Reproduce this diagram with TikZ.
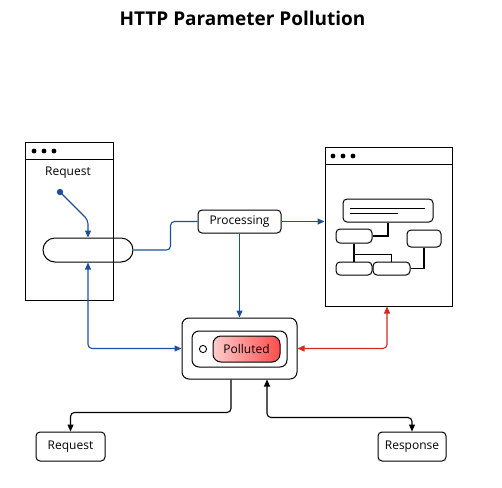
\documentclass[tikz,border=0pt]{standalone}
\usepackage{fontspec}
\setmainfont{Open Sans}
\usetikzlibrary{arrows.meta,positioning}
\definecolor{linkblue}{HTML}{1F4E9C}
\definecolor{alertred}{HTML}{D42A1F}

\tikzset{
  box/.style={draw, line width=1pt, rounded corners=4pt, inner sep=0pt},
  window/.style={draw, line width=1pt, inner sep=0pt},
  tag/.style={box, minimum height=23pt, font=\fontsize{12}{14}\selectfont},
  wire/.style={line width=1.1pt, rounded corners=4pt},
  tip/.style={-{Triangle[length=7pt,width=6pt]}},
  tips/.style={{Triangle[length=7pt,width=6pt]}-{Triangle[length=7pt,width=6pt]}},
}

\begin{document}
\begin{tikzpicture}[x=1pt,y=-1pt]
\useasboundingbox (0,0) rectangle (502,487);

\node [font=\fontsize{19}{22}\selectfont\bfseries] (title) at (242.5,18) {HTTP Parameter Pollution};

% left window
\node [window, minimum width=88pt, minimum height=158pt] (lwin) at (69,221) {};
\draw [line width=1pt] (25,159) -- (113,159);
\foreach \x in {34,44,54}
  \fill (\x,151) circle (2.4pt);
\node [font=\fontsize{12}{14}\selectfont] (lreq) at (68,173) {Request};
\node [box, rounded corners=12pt, minimum width=90pt, minimum height=24pt] (pill) at (88,250) {};
\fill [linkblue] (60,192) circle (3.2pt) coordinate (src);
\coordinate (kink) at (88,220);
\draw [wire, tip, linkblue] (src) -- (kink) -- (pill.north);

% processing
\node [tag, minimum width=83pt] (proc) at (239.5,221.5) {Processing};

% right window
\node [window, minimum width=127pt, minimum height=159pt] (rwin) at (388.5,226.5) {};
\draw [line width=1pt] (325,164) -- (452,164);
\foreach \x in {333,343,353}
  \fill (\x,156) circle (2.4pt);
\node [box, minimum width=90pt, minimum height=23pt] (tb) at (388,210.5) {};
\draw [line width=1pt] (350,208) -- (425,208);
\draw [line width=1pt] (350,213.5) -- (398,213.5);
\node [box, minimum width=36pt, minimum height=14pt] (lm) at (354,236) {};
\node [box, minimum width=34pt, minimum height=17pt] (rm) at (424,238.5) {};
\node [box, minimum width=36pt, minimum height=13pt] (bl) at (354,268.5) {};
\node [box, minimum width=37pt, minimum height=13pt] (br) at (391.5,268.5) {};
\draw [wire, rounded corners=0pt] (tb.south) |- (lm.east);
\draw [wire, rounded corners=0pt] (lm.south) -- (bl.north);
\draw [wire, rounded corners=0pt] (lm.south) ++(0,11) -| (br.north);
\draw [wire, rounded corners=0pt] (rm.south) |- (br.east);

% polluted
\node [box, rounded corners=7pt, minimum width=115pt, minimum height=61pt] (ob) at (239.5,348.5) {};
\node [box, rounded corners=7pt, minimum width=95pt, minimum height=36pt] (ib) at (239.5,349) {};
\draw [line width=0.9pt] (203,349) circle (3.6pt) coordinate (led);
\node [box, rounded corners=8pt, minimum width=67pt, minimum height=26pt,
  left color=red!20, right color=red!70, font=\fontsize{12}{14}\selectfont] (pol) at (246.5,349) {Polluted};

% bottom
\node [tag, minimum width=69pt, minimum height=29pt] (req) at (70.5,446.5) {Request};
\node [tag, minimum width=68pt, minimum height=29pt] (resp) at (412,446.5) {Response};

% connectors
\draw [wire, linkblue] (pill.east) -- ++(37,0) |- (proc.west);
\draw [wire, tip, linkblue] (proc.east) -- (rwin.west |- proc.east);
\draw [wire, tip, linkblue] (proc.south) -- (proc.south |- ob.north);
\draw [wire, tips, linkblue] (pill.south) |- (ob.west);
\draw [wire, tips, alertred] (ob.east) -| ([xshift=-1.5pt]rwin.south);
\draw [wire, tip] ([xshift=-8.5pt]ob.south) -- ++(0,33) -| (req.north);
\draw [wire, tips] ([xshift=27.5pt]ob.south) -- ++(0,38) -| (resp.north);
\end{tikzpicture}
\end{document}
